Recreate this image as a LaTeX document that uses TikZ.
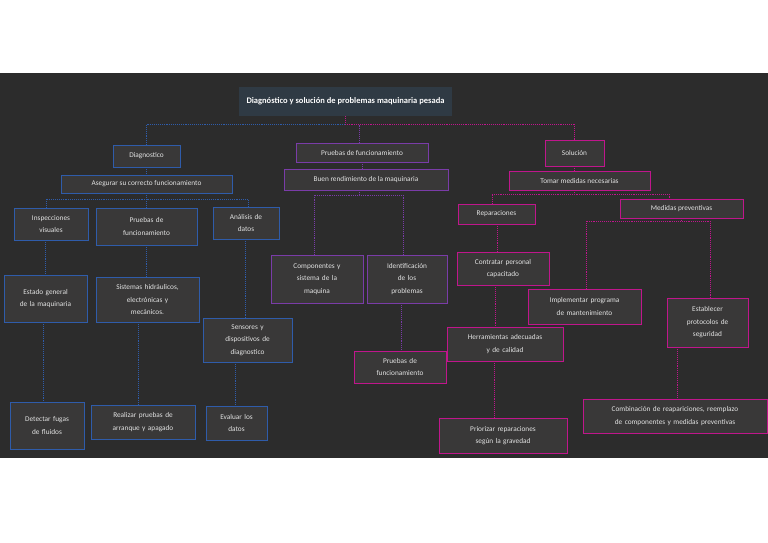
\documentclass[tikz,border=0pt]{standalone}
\usepackage{fontspec}
\setmainfont{Carlito}
\begin{document}
\definecolor{bg}{HTML}{2C2C2C}
\definecolor{bxf}{HTML}{393838}
\definecolor{tf}{HTML}{2F3A44}
\definecolor{cb}{HTML}{2F5CAA}
\definecolor{cp}{HTML}{7A3CA8}
\definecolor{cm}{HTML}{C0168C}
\definecolor{tx}{HTML}{E2E2E2}
\begin{tikzpicture}[x=1pt,y=-1pt,
  bx/.style={draw,line width=0.9pt,fill=bxf,text=tx,font=\fontsize{7.3}{12.5}\selectfont,align=center,inner sep=1pt},
  B/.style={bx,draw=cb},P/.style={bx,draw=cp},M/.style={bx,draw=cm},
  cB/.style={draw=cb,densely dotted,line width=0.9pt},
  cP/.style={draw=cp,densely dotted,line width=0.9pt},
  cM/.style={draw=cm,densely dotted,line width=0.9pt}]
\useasboundingbox (0,0) rectangle (768,543);
\fill[white] (0,0) rectangle (768,543);
\fill[bg] (0,73) rectangle (768,458);
\node[fill=tf,text=white,font=\fontsize{8.5}{10}\selectfont\bfseries,minimum width=213,minimum height=29,inner sep=0] (title) at (345.5,101.5) {Diagnóstico y solución de problemas maquinaria pesada};
% left
\node[B,minimum width=67,minimum height=22] (diag) at (146.5,156) {Diagnostico};
\node[B,minimum width=171,minimum height=18] (aseg) at (146.5,184) {Asegurar su correcto funcionamiento};
\node[B,minimum width=74,minimum height=32,text width=70] (insp) at (51,224) {Inspecciones\\visuales};
\node[B,minimum width=101,minimum height=37,text width=97] (prf1) at (146.5,226.5) {Pruebas de\\funcionamiento};
\node[B,minimum width=66,minimum height=32,text width=62] (anal) at (246,223) {Análisis de\\datos};
\node[B,minimum width=83,minimum height=47,text width=79] (esta) at (45.5,298.5) {Estado general\\de la maquinaria};
\node[B,minimum width=103,minimum height=45,text width=99] (sist) at (147.5,299.5) {Sistemas hidráulicos,\\electrónicas y\\mecánicos.};
\node[B,minimum width=89,minimum height=44,text width=85] (sens) at (247.5,340) {Sensores y\\dispositivos de\\diagnostico};
\node[B,minimum width=74,minimum height=47,text width=70] (dete) at (47,425.5) {Detectar fugas\\de fluidos};
\node[B,minimum width=104,minimum height=34,text width=100] (real) at (143,422) {Realizar pruebas de\\arranque y apagado};
\node[B,minimum width=61,minimum height=34,text width=57] (eval) at (236.5,423) {Evaluar los\\datos};
% middle
\node[P,minimum width=132,minimum height=19] (prf2) at (362,152.5) {Pruebas de funcionamiento};
\node[P,minimum width=164,minimum height=21] (buen) at (366,179.5) {Buen rendimiento de la maquinaria};
\node[P,minimum width=92,minimum height=48,text width=88] (comp) at (317,279) {Componentes y\\sistema de la\\maquina};
\node[P,minimum width=80,minimum height=48,text width=76] (iden) at (407,279) {Identificación\\de los\\problemas};
\node[M,minimum width=92,minimum height=32,text width=88] (prf3) at (400,367) {Pruebas de\\funcionamiento};
% right
\node[M,minimum width=59,minimum height=26] (solu) at (574.5,153) {Solución};
\node[M,minimum width=141,minimum height=19] (toma) at (579.5,180.5) {Tomar medidas necesarias};
\node[M,minimum width=77,minimum height=20] (repa) at (496.5,214) {Reparaciones};
\node[M,minimum width=123,minimum height=19] (medi) at (681.5,208.5) {Medidas preventivas};
\node[M,minimum width=92,minimum height=33,text width=88] (cont) at (503,268.5) {Contratar personal\\capacitado};
\node[M,minimum width=113,minimum height=35,text width=109] (impl) at (584.5,306.5) {Implementar programa\\de mantenimiento};
\node[M,minimum width=81,minimum height=49,text width=77] (est2) at (707.5,322.5) {Establecer\\protocolos de\\seguridad};
\node[M,minimum width=116,minimum height=34,text width=112] (herr) at (505,344) {Herramientas adecuadas\\y de calidad};
\node[M,minimum width=128,minimum height=35,text width=124] (prio) at (503,435.5) {Priorizar reparaciones\\según la gravedad};
\node[M,minimum width=184,minimum height=34,text width=180] (comb) at (675,416) {Combinación de reapariciones, reemplazo\\de componentes y medidas preventivas};
% connectors
\coordinate (tj) at (345,124);
\draw[cB] (tj) -| (diag.north);
\draw[cM] (title.south -| tj) -- (tj) -| (solu.north);
\draw[cP] (prf2.north -| 359,0) -- (359,124);
\draw[cB] (diag.south) -- (aseg.north);
\draw[cB] (aseg.south) -- ++(0,6) coordinate (j1);
\draw[cB] (insp.north -| 46,0) |- (j1) -| (anal.north -| 248,0);
\draw[cB] (j1) -- (prf1.north);
\draw[cB] (insp.south -| 45,0) -- (esta.north -| 45,0);
\draw[cB] (esta.south -| 43,0) -- (dete.north -| 43,0);
\draw[cB] (prf1.south) -- (sist.north -| prf1.south);
\draw[cB] (sist.south -| 138,0) -- (real.north -| 138,0);
\draw[cB] (anal.south -| 245,0) -- (sens.north -| 245,0);
\draw[cB] (sens.south -| 235,0) -- (eval.north -| 235,0);
\draw[cP] (prf2.south) -- (buen.north -| prf2.south);
\draw[cP] (buen.south -| 359,0) -- (359,195) coordinate (j2);
\draw[cP] (comp.north -| 314,0) |- (j2) -| (iden.north -| 403,0);
\draw[cP] (iden.south -| 401,0) -- (prf3.north -| 401,0);
\draw[cM] (solu.south) -- (toma.north -| solu.south);
\draw[cM] (toma.south -| 574,0) -- (574,194) coordinate (j3);
\draw[cM] (repa.north -| 492,0) |- (j3) -| (medi.north -| 669,0);
\draw[cM] (repa.south -| 497,0) -- (cont.north -| 497,0);
\draw[cM] (cont.south -| 495,0) -- (herr.north -| 495,0);
\draw[cM] (herr.south -| 494,0) -- (prio.north -| 494,0);
\draw[cM] (medi.south) -- (medi.south |- 0,221) coordinate (j4);
\draw[cM] (impl.north -| 586,0) |- (j4) -| (est2.north -| 710,0);
\draw[cM] (est2.south -| 677,0) -- (comb.north -| 677,0);
\end{tikzpicture}
\end{document}
